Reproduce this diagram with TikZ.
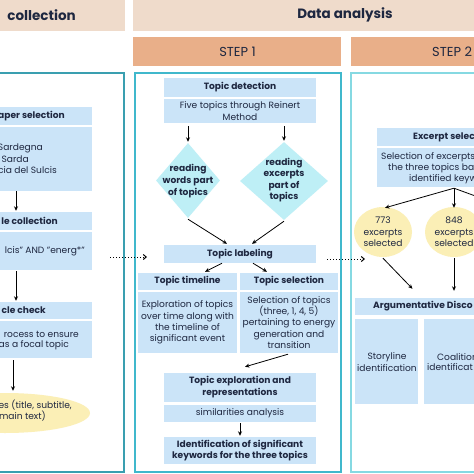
\documentclass[tikz,border=0pt]{standalone}
\usepackage{fontspec}
\setmainfont{Poppins}
\usetikzlibrary{shapes.geometric,arrows.meta}
\definecolor{hdr}{HTML}{EFDBCB}
\definecolor{stp}{HTML}{E9AF89}
\definecolor{bxb}{HTML}{CBE4F8}
\definecolor{dia}{HTML}{BEEFF6}
\definecolor{yel}{HTML}{FBEFB6}
\definecolor{ink}{HTML}{1E2740}
\definecolor{bordL}{HTML}{3A9FB0}
\definecolor{bordM}{HTML}{40B8CC}
\definecolor{bordR}{HTML}{86D9E2}
\begin{document}
\begin{tikzpicture}[x=1pt,y=-1pt,
  box/.style={fill=bxb, draw=none, inner sep=0pt, rectangle},
  tx/.style={font=\fontsize{9.1}{11.4}\selectfont, text=ink, inner sep=0pt, align=center},
  bt/.style={font=\fontsize{9.1}{11.6}\selectfont\bfseries, text=ink, inner sep=0pt, align=center},
  arr/.style={-{Stealth[length=4.5pt,width=4pt]}, line width=0.8pt, draw=black},
  dotarr/.style={dotted, line width=1pt, -{Straight Barb[length=3pt,width=5pt]}},
  panel/.style={line width=1.4pt}]
\useasboundingbox (0,0) rectangle (474,474);
\clip (0,0) rectangle (474,474);
\fill[white] (0,0) rectangle (474,474);
% headers
\node[fill=hdr, inner sep=0pt, minimum width=145, minimum height=31] (hL) at (52.5,15) {};
\node[bt, anchor=east, font=\fontsize{13.5}{15}\selectfont\bfseries] (hLt) at (76,15) {collection};
\node[fill=hdr, inner sep=0pt, minimum width=347, minimum height=31] (hR) at (306.5,15) {};
\node[bt, font=\fontsize{13.5}{15}\selectfont\bfseries] (hRt) at (345,15) {Data analysis};
\node[fill=stp, inner sep=0pt, minimum width=208, minimum height=29] (s1) at (237,51.5) {};
\node[tx, font=\fontsize{13}{15}\selectfont] (s1t) at (237.5,51.5) {STEP 1};
\node[fill=stp, inner sep=0pt, minimum width=129, minimum height=29] (s2) at (415.5,51.5) {};
\node[tx, anchor=west, font=\fontsize{13}{15}\selectfont] (s2t) at (432,51.5) {STEP 2};
% panels
\draw[panel, bordL] (-10,73) rectangle (124,472);
\draw[panel, bordM] (135,73) rectangle (341,472);
\draw[panel, bordR] (351,73) rectangle (490,472);
% left column
\node[box, minimum width=184, minimum height=18] (h1) at (0,116) {};
\node[bt, anchor=east] (h1t) at (65,116) {aper selection};
\node[box, minimum width=184, minimum height=64] (b1) at (0,159) {};
\node[tx, anchor=east] (b1a) at (43,148) {Sardegna};
\node[tx, anchor=east] (b1b) at (29,159) {Sarda};
\node[tx, anchor=east] (b1c) at (57,170) {cia del Sulcis};
\node[box, minimum width=184, minimum height=18] (h2) at (0,221) {};
\node[bt, anchor=east] (h2t) at (58,221) {le collection};
\node[box, minimum width=184, minimum height=38] (b2) at (0,251) {};
\node[tx, anchor=east] (b2t) at (85,251) {lcis" AND "energ*"};
\node[box, minimum width=184, minimum height=17] (h3) at (0,310.5) {};
\node[bt, anchor=east] (h3t) at (46,310.5) {cle check};
\node[box, minimum width=184, minimum height=37] (b3) at (0,339.5) {};
\node[tx, anchor=east] (b3a) at (79,334) {rocess to ensure};
\node[tx, anchor=east] (b3b) at (69,345) {as a focal topic};
\node[ellipse, fill=yel, inner sep=0pt, minimum width=170, minimum height=40] (el) at (5,413) {};
\node[tx, anchor=east] (ela) at (72,405) {es (title, subtitle,};
\node[tx, anchor=east] (elb) at (46,416) {main text)};
\draw[arr] ([xshift=16pt]b1.south) -- ([xshift=16pt,yshift=1pt]h2.north);
\draw[arr] ([xshift=16pt,yshift=-1pt]b2.south) -- ([xshift=16pt,yshift=1pt]h3.north);
\draw[arr] ([xshift=13pt,yshift=-2pt]b3.south) -- ([xshift=8pt,yshift=2pt]el.north);
% middle column
\node[box, minimum width=152, minimum height=19] (td) at (240,87.5) {};
\node[bt] (tdt) at (240,87.5) {Topic detection};
\node[box, minimum width=152, minimum height=24] (tdb) at (240,111) {};
\node[tx] (tdbt) at (240,111) {Five topics through Reinert\\Method};
\node[diamond, fill=dia, inner sep=0pt, minimum width=64, minimum height=75] (dl) at (188,180.5) {};
\node[bt] (dlt) at (188,181) {reading\\words part\\of topics};
\node[diamond, fill=dia, inner sep=0pt, minimum width=88, minimum height=78] (dr) at (284,181) {};
\node[bt] (drt) at (284,180) {reading\\excerpts\\part of\\topics};
\draw[arr] ([xshift=-52pt,yshift=-3pt]tdb.south) -- ([yshift=1pt]dl.north);
\draw[arr] ([xshift=44pt,yshift=-3pt]tdb.south) -- ([yshift=1pt]dr.north);
\node[box, minimum width=152, minimum height=18] (tl) at (240,254) {};
\node[bt] (tlt) at (240,254) {Topic labeling};
\draw[arr] ([yshift=-1pt]dl.south) -- ([xshift=-13pt,yshift=1pt]tl.north);
\draw[arr] ([yshift=-1pt]dr.south) -- ([xshift=12pt,yshift=1pt]tl.north);
\node[box, minimum width=99, minimum height=17] (tt) at (187.5,281.5) {};
\node[bt] (ttt) at (187.5,281.5) {Topic timeline};
\node[box, minimum width=99, minimum height=61] (ttb) at (187.5,322.5) {};
\node[tx] (ttbt) at (187.5,322.5) {Exploration of topics\\over time along with\\the timeline of\\significant event};
\node[box, minimum width=98, minimum height=17] (ts) at (289,281.5) {};
\node[bt] (tst) at (289,281.5) {Topic selection};
\node[box, minimum width=98, minimum height=61] (tsb) at (289,322.5) {};
\node[tx, font=\fontsize{9.1}{11.2}\selectfont] (tsbt) at (289,322.5) {Selection of topics\\(three, 1, 4, 5)\\pertaining to energy\\generation and\\transition};
\draw[arr] ([xshift=-18pt]tl.south) -- ([xshift=17.5pt,yshift=1pt]tt.north);
\draw[arr] ([xshift=13pt]tl.south) -- ([xshift=-22pt,yshift=1pt]ts.north);
\node[box, minimum width=152, minimum height=29] (te) at (240,387.5) {};
\node[bt] (tet) at (240,387) {Topic exploration and\\representations};
\node[box, minimum width=152, minimum height=17] (teb) at (240,413.5) {};
\node[tx] (tebt) at (240,413.5) {similarities analysis};
\draw[arr] ([xshift=-1pt,yshift=-1pt]tsb.south) -- ([xshift=5pt,yshift=6pt]te.north);
\node[box, minimum width=152, minimum height=27] (ik) at (240,450.5) {};
\node[bt] (ikt) at (240,450.5) {Identification of significant\\keywords for the three topics};
\draw[arr] ([yshift=-1pt]teb.south) -- ([yshift=1pt]ik.north);
% dotted connectors
\coordinate (d1a) at (110,257);
\coordinate (d1b) at (147,257);
\draw[dotarr] (d1a) -- (d1b);
\coordinate (d2a) at (327,259);
\coordinate (d2b) at (365,259);
\draw[dotarr] (d2a) -- (d2b);
% right column
\node[box, minimum width=113, minimum height=18] (es) at (433.5,137) {};
\node[bt, anchor=west] (est) at (413,137) {Excerpt selec};
\node[box, minimum width=113, minimum height=39] (esb) at (433.5,167.5) {};
\node[tx, anchor=west] (esa) at (381,157) {Selection of excerpts};
\node[tx, anchor=west] (esb2) at (388,168) {the three topics ba};
\node[tx, anchor=west] (esc) at (409,179) {identified keyw};
\coordinate (jn) at ([xshift=20.5pt,yshift=-1pt]esb.south);
\node[ellipse, fill=yel, inner sep=0pt, minimum width=58, minimum height=50] (e1) at (383,232) {};
\node[tx] (e1t) at (383,232) {773\\excerpts\\selected};
\node[ellipse, fill=yel, inner sep=0pt, minimum width=58, minimum height=50] (e2) at (454,232) {};
\node[tx] (e2t) at (454,232) {848\\excerpts\\selected};
\coordinate (off) at (500,205);
\draw[line width=0.8pt] (jn) -- (off);
\draw[arr] (jn) -- ([xshift=2pt,yshift=-1pt]e1.north);
\draw[arr] (jn) -- ([yshift=-1pt]e2.north);
\node[box, minimum width=125, minimum height=17] (ad) at (417.5,306.5) {};
\node[bt, anchor=west] (adt) at (373,306.5) {Argumentative Disco};
\draw[arr] ([yshift=-1pt]e1.south) -- ([xshift=-5pt,yshift=9pt]ad.north);
\draw[arr] ([yshift=-1pt]e2.south) -- ([xshift=36.5pt,yshift=7pt]ad.north);
\node[box, minimum width=63, minimum height=85] (sl) at (386.5,361.5) {};
\node[tx] (slt) at (387,362) {Storyline\\identification};
\node[box, minimum width=56, minimum height=85] (co) at (452,361.5) {};
\node[tx, anchor=west] (coa) at (437,357) {Coalition};
\node[tx, anchor=west] (cob) at (427,367.5) {identificat};
\end{tikzpicture}
\end{document}
